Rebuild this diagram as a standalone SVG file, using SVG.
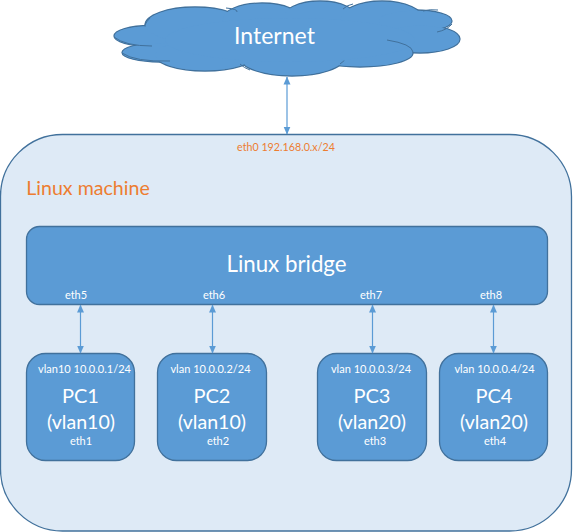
<svg xmlns="http://www.w3.org/2000/svg" width="573" height="532" viewBox="0 0 573 532">
<style>
text{font-family:Lato,"Open Sans",sans-serif;fill:#fff;text-anchor:middle}
.box{fill:#5B9BD5;stroke:#41719C;stroke-width:1.3}
.s{font-size:11px}
.m{font-size:20px}
.v{font-size:19.6px}
.o{fill:#ED7D31}
.c{stroke:#5B9BD5;stroke-width:1.2;fill:none;marker-start:url(#a);marker-end:url(#a)}
.cloudline ellipse{fill:#5B9BD5;stroke:#41719C;stroke-width:1.3}
.cloudfill ellipse{fill:#5B9BD5}
.arc{fill:none;stroke:#41719C;stroke-width:1}
</style>
<defs>
<marker id="a" viewBox="0 0 8 8" refX="7.5" refY="4" markerUnits="userSpaceOnUse" markerWidth="8" markerHeight="8" orient="auto-start-reverse"><path d="M0 0.5L8 4L0 7.5Z" fill="#5B9BD5"/></marker>
</defs>
<g id="machine">
<rect x="0.5" y="134.5" width="571" height="396.5" rx="62" fill="#DEEAF6" stroke="#41719C" stroke-width="1.3"/>
<text x="88" y="195" class="o" font-size="19.6">Linux machine</text>
<text x="286" y="151" class="o" font-size="10.7">eth0 192.168.0.x/24</text>
</g>
<g id="internet">
<g class="cloudline">
<ellipse cx="150" cy="36" rx="36" ry="10.5"/>
<ellipse cx="160" cy="52.5" rx="38" ry="9.5"/>
<ellipse cx="195" cy="25" rx="50" ry="18"/>
<ellipse cx="262" cy="20" rx="40" ry="17"/>
<ellipse cx="320" cy="19" rx="38" ry="18"/>
<ellipse cx="382" cy="20" rx="42" ry="19"/>
<ellipse cx="415" cy="21" rx="37" ry="11"/>
<ellipse cx="420" cy="39" rx="40" ry="14"/>
<ellipse cx="360" cy="53" rx="53" ry="14"/>
<ellipse cx="292" cy="58" rx="52" ry="18"/>
<ellipse cx="205" cy="55" rx="50" ry="16"/>
</g>
<g class="cloudfill">
<ellipse cx="150" cy="36" rx="35.3" ry="9.8"/>
<ellipse cx="160" cy="52.5" rx="37.3" ry="8.8"/>
<ellipse cx="195" cy="25" rx="49.3" ry="17.3"/>
<ellipse cx="262" cy="20" rx="39.3" ry="16.3"/>
<ellipse cx="320" cy="19" rx="37.3" ry="17.3"/>
<ellipse cx="382" cy="20" rx="41.3" ry="18.3"/>
<ellipse cx="415" cy="21" rx="36.3" ry="10.3"/>
<ellipse cx="420" cy="39" rx="39.3" ry="13.3"/>
<ellipse cx="360" cy="53" rx="52.3" ry="13.3"/>
<ellipse cx="292" cy="58" rx="51.3" ry="17.3"/>
<ellipse cx="205" cy="55" rx="49.3" ry="15.3"/>
<ellipse cx="290" cy="40" rx="125" ry="22"/>
</g>
<path class="arc" d="M114 37Q125 46 152 46M122 53Q135 62 170 61M145 25Q146 22 150 18M226 8Q238 9 237 12M343 9Q347 5 353 4M423 11Q430 9 438 10M437 32Q447 30 452 24M387 40Q412 44 413 52M340 64Q345 60 344 61M240 64Q244 68 250 70"/>
<text x="274.5" y="44" font-size="23">Internet</text>
</g>
<g id="bridge">
<rect class="box" x="26.5" y="226.5" width="521" height="78" rx="13"/>
<text x="286.5" y="272" font-size="22.3">Linux bridge</text>
<text x="76" y="299" class="s">eth5</text>
<text x="214" y="299" class="s">eth6</text>
<text x="371" y="299" class="s">eth7</text>
<text x="491" y="299" class="s">eth8</text>
</g>
<g id="pc1">
<rect class="box" x="26.5" y="353.5" width="108" height="107" rx="19"/>
<text x="84.5" y="373" class="s">vlan10 10.0.0.1/24</text>
<text x="80.5" y="403" class="m">PC1</text>
<text x="81" y="429" class="v">(vlan10)</text>
<text x="81" y="445" class="s">eth1</text>
</g>
<g id="pc2">
<rect class="box" x="157.5" y="353.5" width="109" height="107" rx="19"/>
<text x="210.5" y="373" class="s">vlan 10.0.0.2/24</text>
<text x="212" y="403" class="m">PC2</text>
<text x="212" y="429" class="v">(vlan10)</text>
<text x="218" y="445" class="s">eth2</text>
</g>
<g id="pc3">
<rect class="box" x="317.5" y="353.5" width="109" height="107" rx="19"/>
<text x="371" y="373" class="s">vlan 10.0.0.3/24</text>
<text x="372" y="403" class="m">PC3</text>
<text x="372" y="429" class="v">(vlan20)</text>
<text x="375" y="445" class="s">eth3</text>
</g>
<g id="pc4">
<rect class="box" x="439.5" y="353.5" width="108" height="107" rx="19"/>
<text x="494.5" y="373" class="s">vlan 10.0.0.4/24</text>
<text x="494" y="403" class="m">PC4</text>
<text x="494" y="429" class="v">(vlan20)</text>
<text x="495" y="445" class="s">eth4</text>
</g>
<g id="connectors">
<line class="c" x1="287" y1="77" x2="287" y2="134"/>
<line class="c" x1="80.5" y1="305" x2="80.5" y2="353"/>
<line class="c" x1="212.5" y1="305" x2="212.5" y2="353"/>
<line class="c" x1="372.5" y1="305" x2="372.5" y2="353"/>
<line class="c" x1="493.5" y1="305" x2="493.5" y2="353"/>
</g>
</svg>
